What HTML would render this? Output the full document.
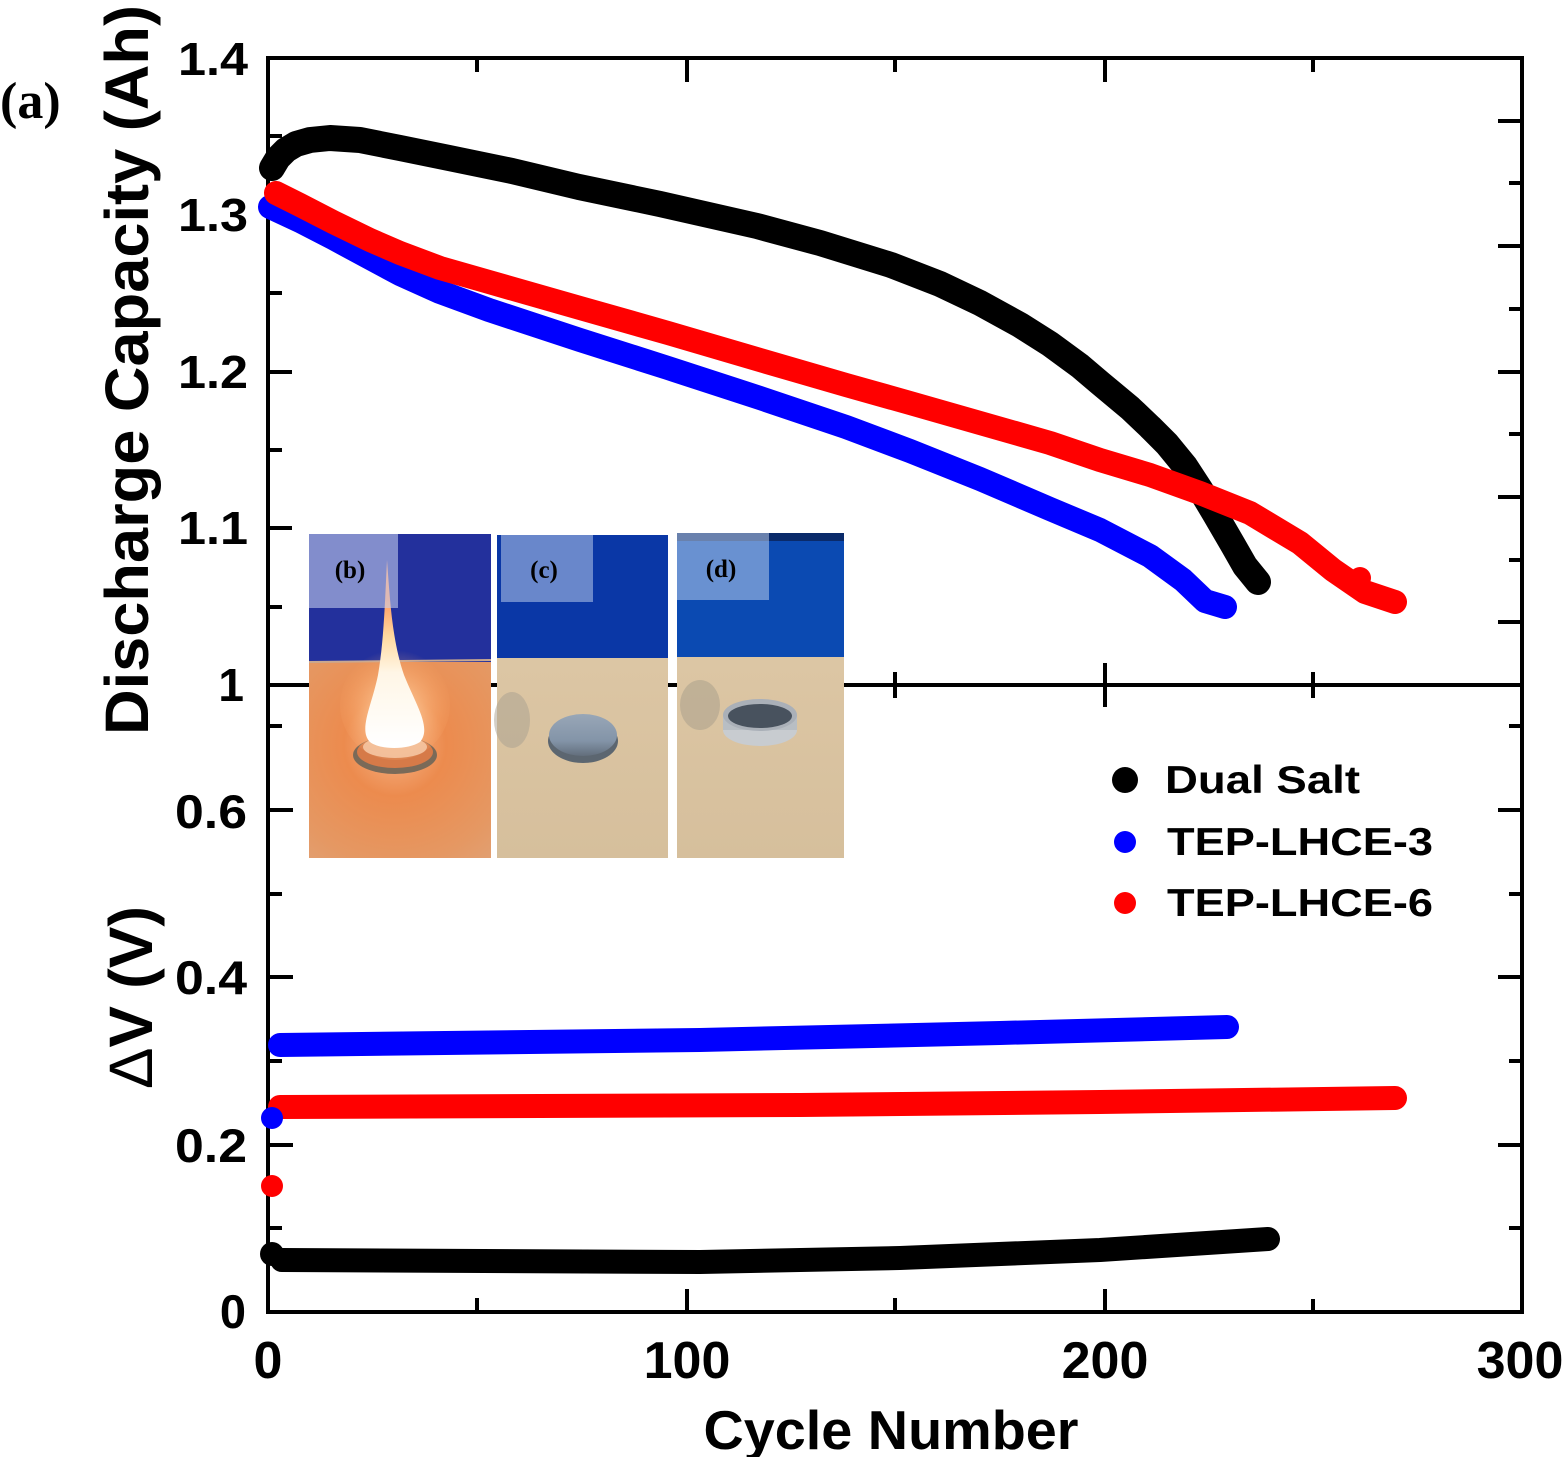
<!DOCTYPE html>
<html><head><meta charset="utf-8"><style>
html,body{margin:0;padding:0;background:#fff;}
svg{display:block;}
text{font-family:"Liberation Sans",Arial,sans-serif;font-weight:bold;fill:#000;}
.serif{font-family:"Liberation Serif","Times New Roman",serif;font-weight:bold;}
</style></head><body>
<svg width="1566" height="1457" viewBox="0 0 1566 1457" xmlns="http://www.w3.org/2000/svg">
<defs>
<radialGradient id="groundB" cx="395" cy="745" r="170" gradientUnits="userSpaceOnUse">
<stop offset="0" stop-color="#f7b487"/><stop offset="0.3" stop-color="#ec8b4e"/><stop offset="0.7" stop-color="#e59863"/><stop offset="1" stop-color="#dfa57c"/></radialGradient>
<linearGradient id="flame" x1="0" y1="600" x2="0" y2="745" gradientUnits="userSpaceOnUse">
<stop offset="0" stop-color="#ff9a60"/><stop offset="0.25" stop-color="#ffd9a0"/><stop offset="0.5" stop-color="#fff6e6"/><stop offset="1" stop-color="#ffffff"/></linearGradient>
<radialGradient id="glow" cx="395" cy="710" r="60" gradientUnits="userSpaceOnUse">
<stop offset="0" stop-color="#ffe6c0" stop-opacity="0.9"/><stop offset="1" stop-color="#ffb070" stop-opacity="0"/></radialGradient>
<linearGradient id="sandC" x1="0" y1="658" x2="0" y2="858" gradientUnits="userSpaceOnUse">
<stop offset="0" stop-color="#dcc6a4"/><stop offset="1" stop-color="#d6bf9c"/></linearGradient>
<linearGradient id="coinC" x1="0" y1="712" x2="0" y2="760" gradientUnits="userSpaceOnUse">
<stop offset="0" stop-color="#9aa8b8"/><stop offset="0.6" stop-color="#8394a8"/><stop offset="1" stop-color="#5a6470"/></linearGradient>
</defs>

<!-- (a) -->
<text class="serif" x="0" y="118" font-size="52">(a)</text>

<!-- axis titles -->
<text transform="translate(148,735) rotate(-90)" x="0" y="0" font-size="61" textLength="730" lengthAdjust="spacingAndGlyphs">Discharge Capacity (Ah)</text>
<text transform="translate(152,1089) rotate(-90)" x="0" y="0" font-size="61" textLength="183" lengthAdjust="spacingAndGlyphs"><tspan font-weight="normal">Δ</tspan>V (V)</text>
<text x="891" y="1449" font-size="55" text-anchor="middle" textLength="375" lengthAdjust="spacingAndGlyphs">Cycle Number</text>

<!-- y tick labels top -->
<g font-size="46" text-anchor="end">
<text x="248" y="75" textLength="70" lengthAdjust="spacingAndGlyphs">1.4</text>
<text x="248" y="231" textLength="70" lengthAdjust="spacingAndGlyphs">1.3</text>
<text x="248" y="388" textLength="70" lengthAdjust="spacingAndGlyphs">1.2</text>
<text x="248" y="544" textLength="70" lengthAdjust="spacingAndGlyphs">1.1</text>
<text x="244" y="701">1</text>
</g>
<g font-size="47" text-anchor="end">
<text x="247" y="828" textLength="72" lengthAdjust="spacingAndGlyphs">0.6</text>
<text x="247" y="994" textLength="72" lengthAdjust="spacingAndGlyphs">0.4</text>
<text x="247" y="1162" textLength="72" lengthAdjust="spacingAndGlyphs">0.2</text>
<text x="246" y="1328">0</text>
</g>
<!-- x tick labels -->
<g font-size="52" text-anchor="middle">
<text x="268" y="1378">0</text>
<text x="687" y="1378">100</text>
<text x="1105" y="1378">200</text>
<text x="1520" y="1378">300</text>
</g>

<!-- axes frame -->
<g stroke="#000" stroke-width="4" fill="none">
<rect x="268" y="58" width="1254" height="1254"/>
<line x1="268" y1="685" x2="1522" y2="685"/>
</g>
<!-- ticks -->
<g stroke="#000" stroke-width="4">
<line x1="268" y1="215" x2="292" y2="215"/><line x1="268" y1="372" x2="292" y2="372"/><line x1="268" y1="528" x2="292" y2="528"/>
<line x1="268" y1="136" x2="282" y2="136"/><line x1="268" y1="293" x2="282" y2="293"/><line x1="268" y1="450" x2="282" y2="450"/><line x1="268" y1="607" x2="282" y2="607"/>
<line x1="268" y1="810" x2="293" y2="810"/><line x1="268" y1="977" x2="293" y2="977"/><line x1="268" y1="1145" x2="293" y2="1145"/>
<line x1="268" y1="726" x2="282" y2="726"/><line x1="268" y1="894" x2="282" y2="894"/><line x1="268" y1="1061" x2="282" y2="1061"/><line x1="268" y1="1228" x2="282" y2="1228"/>
<line x1="1498" y1="121" x2="1522" y2="121"/><line x1="1498" y1="246" x2="1522" y2="246"/><line x1="1498" y1="372" x2="1522" y2="372"/><line x1="1498" y1="497" x2="1522" y2="497"/><line x1="1498" y1="622" x2="1522" y2="622"/>
<line x1="1509" y1="183" x2="1522" y2="183"/><line x1="1509" y1="309" x2="1522" y2="309"/><line x1="1509" y1="434" x2="1522" y2="434"/><line x1="1509" y1="560" x2="1522" y2="560"/>
<line x1="1498" y1="810" x2="1522" y2="810"/><line x1="1498" y1="977" x2="1522" y2="977"/><line x1="1498" y1="1145" x2="1522" y2="1145"/>
<line x1="1509" y1="726" x2="1522" y2="726"/><line x1="1509" y1="894" x2="1522" y2="894"/><line x1="1509" y1="1061" x2="1522" y2="1061"/><line x1="1509" y1="1228" x2="1522" y2="1228"/>
<line x1="477" y1="1298" x2="477" y2="1312"/><line x1="687" y1="1289" x2="687" y2="1312"/><line x1="895" y1="1298" x2="895" y2="1312"/><line x1="1105" y1="1289" x2="1105" y2="1312"/><line x1="1313" y1="1299" x2="1313" y2="1312"/>
<line x1="477" y1="58" x2="477" y2="72"/><line x1="687" y1="58" x2="687" y2="82"/><line x1="895" y1="58" x2="895" y2="72"/><line x1="1105" y1="58" x2="1105" y2="82"/><line x1="1313" y1="58" x2="1313" y2="72"/>
<line x1="477" y1="672" x2="477" y2="698"/><line x1="687" y1="663" x2="687" y2="707"/><line x1="895" y1="672" x2="895" y2="698"/><line x1="1105" y1="663" x2="1105" y2="707"/><line x1="1313" y1="672" x2="1313" y2="698"/>
</g>

<!-- data top panel -->
<g fill="none" stroke-linecap="round" stroke-linejoin="round">
<polyline stroke="#000000" stroke-width="26" points="272,168 278,158 286,150 296,144 310,140 330,138 360,140 400,148 449,158 512,171 579,187 660,204 757,226 820,243 891,265 940,284 980,303 1020,325 1050,344 1080,366 1100,383 1130,408 1150,427 1167,444 1185,466 1200,489 1215,514 1233,545 1245,566 1258,582"/>
<polyline stroke="#0000ff" stroke-width="24" points="270,207 300,221 333,238 370,258 400,274 440,292 489,310 580,340 668,368 760,398 846,427 910,451 980,479 1050,509 1100,530 1150,556 1183,580 1205,601 1225,607"/>
<polyline stroke="#ff0000" stroke-width="24" points="276,193 300,205 333,222 370,240 400,253 440,268 489,282 580,308 668,333 760,360 846,385 910,403 980,423 1050,443 1100,460 1150,475 1200,493 1250,513 1300,543 1333,570 1365,592 1395,602"/>
</g>
<circle cx="1360" cy="578" r="11" fill="#ff0000"/>

<!-- data bottom panel -->
<g fill="none" stroke-linecap="round" stroke-linejoin="round" stroke-width="24">
<polyline stroke="#0000ff" points="280,1045 700,1040 1000,1033 1227,1027"/>
<polyline stroke="#ff0000" points="280,1107 800,1105 1100,1102 1395,1098"/>
<polyline stroke="#000000" points="282,1260 700,1262 900,1258 1100,1250 1268,1239"/>
</g>
<circle cx="272" cy="1118" r="11" fill="#0000ff"/>
<circle cx="272" cy="1186" r="11" fill="#ff0000"/>
<circle cx="272" cy="1254" r="12" fill="#000"/>

<!-- legend -->
<circle cx="1125" cy="780" r="13" fill="#000"/>
<circle cx="1125" cy="842" r="11" fill="#0000ff"/>
<circle cx="1125" cy="903" r="11" fill="#ff0000"/>
<g font-size="39">
<text x="1165" y="793" textLength="195" lengthAdjust="spacingAndGlyphs">Dual Salt</text>
<text x="1167" y="855" textLength="266" lengthAdjust="spacingAndGlyphs">TEP-LHCE-3</text>
<text x="1167" y="916" textLength="266" lengthAdjust="spacingAndGlyphs">TEP-LHCE-6</text>
</g>

<!-- photo (b) -->
<rect x="309" y="534" width="182" height="128" fill="#23309c"/>
<rect x="309" y="662" width="182" height="196" fill="url(#groundB)"/>
<path d="M309,662 L491,660" stroke="#c9a890" stroke-width="2"/>
<ellipse cx="395" cy="755" rx="42" ry="19" fill="#7a6a58"/>
<ellipse cx="395" cy="752" rx="38" ry="16" fill="#d67a48"/>
<ellipse cx="395" cy="747" rx="32" ry="11" fill="#f0c0a0"/>
<ellipse cx="395" cy="705" rx="55" ry="55" fill="url(#glow)"/>
<path d="M387,560 C390,600 392,640 404,675 C416,705 432,728 420,742 C408,750 380,750 370,742 C358,730 372,705 378,675 C384,640 385,600 387,560 Z" fill="url(#flame)"/>
<rect x="309" y="534" width="89" height="74" fill="#c8d0f0" fill-opacity="0.58"/>
<text class="serif" x="350" y="578" font-size="25" text-anchor="middle">(b)</text>

<!-- photo (c) -->
<rect x="497" y="535" width="171" height="123" fill="#0a37a6"/>
<rect x="497" y="658" width="171" height="200" fill="url(#sandC)"/>
<ellipse cx="512" cy="720" rx="18" ry="28" fill="#a8a090" opacity="0.5"/>
<ellipse cx="583" cy="741" rx="35" ry="22" fill="#5c6670"/>
<ellipse cx="583" cy="735" rx="34" ry="21" fill="url(#coinC)"/>
<rect x="501" y="535" width="92" height="67" fill="#c8d7f0" fill-opacity="0.5"/>
<text class="serif" x="544" y="578" font-size="25" text-anchor="middle">(c)</text>

<!-- photo (d) -->
<rect x="677" y="533" width="167" height="124" fill="#0b4ab2"/>
<rect x="677" y="533" width="167" height="8" fill="#0a2a6a"/>
<rect x="677" y="657" width="167" height="201" fill="url(#sandC)"/>
<ellipse cx="700" cy="705" rx="20" ry="25" fill="#a09888" opacity="0.45"/>
<ellipse cx="760" cy="730" rx="37" ry="16" fill="#c8ccd0"/>
<rect x="723" y="715" width="74" height="15" fill="#b8bec4"/>
<ellipse cx="760" cy="715" rx="37" ry="16" fill="#aab0b8"/>
<ellipse cx="760" cy="716" rx="32" ry="12" fill="#48525e"/>
<rect x="677" y="533" width="92" height="67" fill="#c8d7f0" fill-opacity="0.5"/>
<text class="serif" x="721" y="577" font-size="25" text-anchor="middle">(d)</text>
</svg>
</body></html>
